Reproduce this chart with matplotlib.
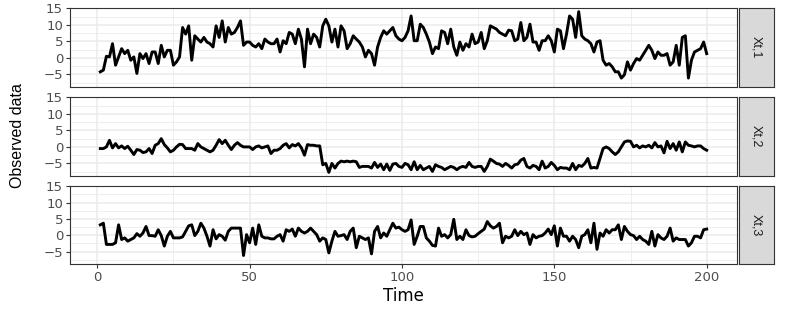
import matplotlib
matplotlib.use("Agg")
import matplotlib.pyplot as plt
import numpy as np

############## Data ##############
time = np.arange(1, 201)

xt1 = [
    -4.2, -3.7, 0.5, 0.3, 4.3, -2.2, 0.3, 2.8, 1.3, 2.3,
    -0.7, 0.3, -4.7, 1.3, -0.2, 1.3, -1.7, 1.8, 1.8, -1.7,
    3.8, 0.3, 2.3, 2.3, -2.2, -1.2, 0.3, 9.2, 7.2, 9.7,
    -0.7, 6.7, 5.7, 4.8, 6.2, 4.8, 4.3, 3.3, 9.7, 6.2,
    11.2, 4.8, 9.2, 7.2, 7.7, 9.2, 11.2, 3.8, 4.8, 4.8,
    3.8, 3.3, 4.3, 2.8, 5.7, 4.8, 4.3, 4.3, 5.7,
    1.8, 5.2, 4.3, 7.7, 7.2, 4.3, 8.7, 5.7, -2.7, 8.7,
    4.3, 7.2, 6.2, 3.3, 9.7, 11.7, 9.7, 4.8, 8.7, 3.3,
    9.7, 8.2, 2.8, 4.3, 6.7, 5.7, 4.8, 3.3, 0.3, 2.3,
    1.3, -2.2, 3.3, 6.2, 8.2, 7.2, 8.2, 9.2, 6.7, 5.7,
    5.2, 6.2, 8.2, 12.7, 5.2, 5.2, 10.2, 9.2, 7.2, 4.8,
    1.3, 3.3, 2.8, 8.2, 7.7, 4.3, 8.7, 3.3, 0.8, 4.8,
    2.3, 4.3, 3.3, 7.2, 4.3, 4.8, 7.7, 2.8, 5.2, 9.7,
    9.2, 8.7,
    7.7, 7.2, 6.7, 8.4, 8.2, 5.2, 5.7, 10.7, 5.2, 6.2,
    10.2, 4.8, 4.8, 2.3, 5.2, 5.2, 6.7, 5.2, 1.8, 8.7,
    8.2, 2.8, 7.2, 12.7, 11.7, 6.2, 14.0, 6.7, 5.7, 5.2,
    4.3, 1.8, 4.8, 5.2, -0.7, -2.2, -1.7, -2.7, -4.2, -4.2,
    -6.1, -5.1, -1.2, -3.7, -1.7, -0.2, -0.7, 0.8, 2.3, 3.8,
    2.3, -0.2, 1.8, 0.8, 0.8, 1.3, -2.2, -1.2, 3.8, -2.2,
    6.2, 6.7, -6.1, -0.7, 1.8, 2.3, 2.8, 4.8, 1.3,
]

xt2 = [
    -0.5, -0.5, 0, 2.0, -0.3, 1.0, -0.3, 0.3, -0.5, 0.2,
    -1.0, -2.3, -0.8, -1.0, -1.7, -1.5, -0.5, -2.0, 0.5, 1.0,
    2.5, 0.7, -0.3, -1.5, -1.0, 0, 0.8, 0.7, -0.5, -0.5,
    -0.5, -1.0, 1.0, 0, -0.5, -1.0, -1.5, -1.0, 0.5, 2.2,
    1.0, 2.0, 0.5, -0.8, 0.5, 1.3, 0.5, 0, 0, 0,
    -0.8, 0, 0.3, -0.3, 0, 0.3, -2.0, -1.0, -1.0,
    -0.5, 0.5, 1.0, -0.3, 0.7, 0.3, 1.0, -0.3, -2.5, 0.7,
    0.5, 0.5, 0.3, 0.3, -5.4, -5.0, -7.7, -5.0, -6.4, -5.0,
    -4.3, -4.5, -4.3, -4.5, -4.3, -4.5, -6.2, -5.9, -5.9, -5.9,
    -6.4, -4.7, -6.2, -5.2, -6.9, -5.2, -7.1, -5.2, -5.0, -5.9,
    -6.2, -5.0, -5.4, -6.9, -4.5, -6.9, -5.6, -6.9, -6.4, -5.9,
    -7.4, -5.4, -5.9, -6.2, -6.9, -6.4, -5.9, -6.2, -6.9, -6.2,
    -5.9, -6.2, -4.7, -5.9, -6.2, -5.9, -5.9, -7.4, -5.9, -3.7,
    -4.3, -5.0,
    -5.2, -5.9, -5.0, -5.6, -6.4, -5.4, -5.2, -4.0, -3.5, -5.9,
    -6.4, -5.6, -5.9, -6.9, -4.3, -6.4, -5.9, -4.7, -5.6, -6.9,
    -6.2, -6.4, -6.4, -6.9, -5.0, -6.9, -5.6, -5.9, -5.0, -3.5,
    -6.4, -6.2, -6.4, -3.5, -0.5, 0, -0.5, -1.5, -2.3, -1.5,
    0, 1.5, 1.8, 1.7, 0, 0.5, -0.3, 0.3, 0, 0.5,
    -0.3, 1.3, 0, 0.3, -1.8, 1.7, -0.5, 1.0, -1.0, 1.5,
    -1.5, 1.5, 0.5, 0.3, 0, 0.3, 0.3, -0.5, -1.0,
]

xt3 = [
    3.2, 3.7, -2.8, -2.8, -2.8, -2.3, 3.2, -1.3, -0.8, -1.8,
    -1.3, -0.8, 0.5, -0.3, 0.7, 2.7, -0.1, -0.1, -0.3, 1.7,
    -0.1, -3.3, -0.3, 1.2, -0.8, -0.8, -0.8, -0.5, 1.2, 2.9,
    3.2, -0.1, 1.2, 3.7, 2.2, -0.3, -3.3, 1.7, -1.1, 0.2,
    -0.3, -1.5, 1.2, 2.2, 2.2, 2.2, 2.2, -6.2, 0.2, -2.3,
    2.2, -2.8, 3.2, -0.3, -0.8, -0.8, -1.1, -1.1, -0.3,
    0.2, -1.8, 1.7, 1.2, 1.9, -0.3, 2.2, 1.2, 0.7, 1.2,
    2.2, 1.2, 0.2, -1.8, -0.8, -1.3, -5.4, -1.8, 1.2, -0.3,
    -0.1, 0.2, -1.3, 1.2, 2.2, -3.8, -0.3, -0.8, -1.3, -0.8,
    -5.7, 1.2, 2.7, -0.8, 0.7, -0.3, 1.7, 3.7, 2.2, 2.5,
    1.7, 1.2, 1.7, 4.7, -2.8, -0.3, 2.7, 2.7, -0.8, -1.8,
    -3.1, -3.3, 2.2, -0.3, 0.2, -0.8, 0.2, 4.9, -1.3, -0.3,
    -1.3, 1.7, -0.1, -0.5, -0.3, 0.5, 1.2, 1.9, 4.2, 2.9,
    2.2, 2.7,
    3.7, -2.3, -0.3, -0.8, -0.3, 1.7, -0.1, 1.2, 0.2, 0.7,
    -2.8, 0.2, -0.8, -0.3, -0.1, 0.7, 1.9, 0.2, 2.9, -3.3,
    2.2, -0.3, -0.3, -1.8, -0.3, -1.3, -3.8, -0.3, 0.2, 1.7,
    -2.3, 3.7, -4.3, 0.7, -0.3, 1.7, 0.7, 1.7, 1.7, 3.2,
    -1.3, 2.7, 1.2, 0.2, -0.1, -1.3, -0.3, -1.3, -1.8, -2.8,
    1.2, -3.3, 0.2, -0.8, -1.3, -0.3, 2.2, -1.8, -0.8, -1.3,
    -1.3, -1.3, -3.3, -2.3, -0.3, -0.3, -0.8, 1.7, 1.9,
]

series = [xt1, xt2, xt3]
strip_labels = ["Xt,1", "Xt,2", "Xt,3"]
y_ticks = [-5, 0, 5, 10, 15]
x_ticks = [0, 50, 100, 150, 200]

############## Darstellung ##############
plt.rcParams['font.family'] = ['DejaVu Sans']

W, H = 785, 311
fig = plt.figure(figsize=(W / 100, H / 100), dpi=100)

left, right = 70, 737
strip_l, strip_r = 739, 774
panel_rows = [(8, 87), (97, 176), (186, 264)]

grid_col = "#EBEBEB"
border_col = "#333333"
tick_col = "#4D4D4D"

for i, (vals, lab, (top, bot)) in enumerate(zip(series, strip_labels, panel_rows)):
    ax = fig.add_axes([left / W, 1 - bot / H, (right - left) / W, (bot - top) / H])
    ax.plot(time, vals, color="black", lw=2.1, solid_joinstyle="round")
    ax.set_xlim(-8.95, 209.95)
    ax.set_ylim(-8.8, 15.1)
    ax.set_yticks(y_ticks)
    ax.set_yticks([-7.5, -2.5, 2.5, 7.5, 12.5], minor=True)
    ax.set_xticks(x_ticks)
    ax.set_xticks([25, 75, 125, 175], minor=True)
    ax.grid(True, which="major", color=grid_col, lw=1.1)
    ax.grid(True, which="minor", color=grid_col, lw=0.55)
    ax.set_axisbelow(True)
    for s in ax.spines.values():
        s.set_color(border_col)
        s.set_linewidth(0.8)
    ax.tick_params(which="minor", length=0)
    ax.tick_params(axis="y", length=3, width=0.8, color=border_col,
                   labelsize=9.5, labelcolor=tick_col, pad=2)
    if i < 2:
        ax.tick_params(axis="x", length=0, labelbottom=False)
    else:
        ax.tick_params(axis="x", length=3, width=0.8, color=border_col,
                       labelsize=9.5, labelcolor=tick_col, pad=2)

    sax = fig.add_axes([strip_l / W, 1 - bot / H, (strip_r - strip_l) / W, (bot - top) / H])
    sax.set_facecolor("#D9D9D9")
    sax.set_xticks([])
    sax.set_yticks([])
    for s in sax.spines.values():
        s.set_color(border_col)
        s.set_linewidth(0.8)
    sax.text(0.5, 0.5, lab, rotation=-90, ha="center", va="center",
             fontsize=9, color="#1A1A1A", family="Liberation Sans",
             transform=sax.transAxes)

fig.text((left + right) / 2 / W, 1 - 296 / H, "Time", ha="center", va="center",
         fontsize=12, color="black")
fig.text(18 / W, 1 - 136 / H, "Observed data", ha="center", va="center",
         rotation=90, fontsize=11.5, color="black", family="Liberation Sans")

fig.savefig("out.png", dpi=100)
